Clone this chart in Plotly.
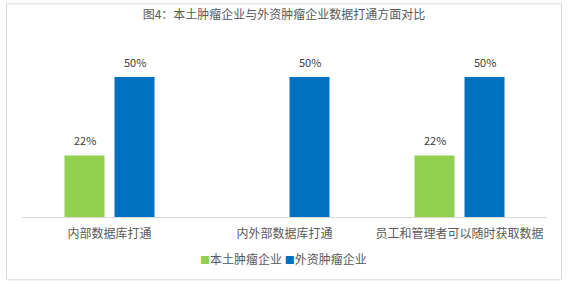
import plotly.graph_objects as go

categories = ["内部数据库打通", "内外部数据库打通", "员工和管理者可以随时获取数据"]
series_names = ["本土肿瘤企业", "外资肿瘤企业"]
local_values = [22, None, 22]
foreign_values = [50, 50, 50]
colors = ["#92D050", "#0070C0"]
title_text = "图4：本土肿瘤企业与外资肿瘤企业数据打通方面对比"

FONT = "Noto Sans CJK SC, Microsoft YaHei, sans-serif"
W, H = 568, 284
L, R, T, B = 22, 21, 48.7, 67.3
pw, ph = W - L - R, H - T - B

fig = go.Figure()
for name, vals, c in zip(series_names, [local_values, foreign_values], colors):
    fig.add_trace(go.Bar(x=categories, y=vals, name=name, showlegend=False,
                         marker=dict(color=c, line=dict(width=0))))

annotations = []
for vals, shift in [(local_values, -25), (foreign_values, 25)]:
    for cat, v in zip(categories, vals):
        if v is None:
            continue
        annotations.append(dict(x=cat, y=v, xref="x", yref="y", text=f"{v}%", showarrow=False,
                                xshift=shift, yshift=15, yanchor="middle",
                                font=dict(family=FONT, size=11, color="#404040")))

def px2paper_x(px):
    return (px - L) / pw

def px2paper_y(py):
    return (H - B - py) / ph

# compact legend built from series names and colours
legend_text = " ".join(
    f'<span style="color:{c};font-size:10px">■</span>{n}' for n, c in zip(series_names, colors)
)
annotations.append(dict(x=px2paper_x(283.5), y=px2paper_y(258), xref="paper", yref="paper",
                        text=legend_text, showarrow=False, xanchor="center", yanchor="middle",
                        font=dict(family=FONT, size=12, color="#595959")))

shapes = [dict(type="rect", xref="paper", yref="paper",
               x0=px2paper_x(6.5), x1=px2paper_x(561.5), y0=px2paper_y(279.5), y1=px2paper_y(3.5),
               line=dict(color="#D9D9D9", width=1), fillcolor="rgba(0,0,0,0)", layer="below")]

fig.update_layout(
    width=W, height=H,
    margin=dict(l=L, r=R, t=T, b=B),
    paper_bgcolor="white", plot_bgcolor="white",
    barmode="group", bargap=0.4286, bargroupgap=0.2,
    title=dict(text=title_text, x=0.5, xanchor="center", y=1 - 15 / H, yanchor="middle",
               font=dict(family=FONT, size=12, color="#595959")),
    xaxis=dict(showline=True, linecolor="#D9D9D9", linewidth=1, ticks="", showgrid=False,
               ticklabelstandoff=6,
               tickfont=dict(family=FONT, size=12, color="#595959")),
    yaxis=dict(range=[0, 60], visible=False, showgrid=False, zeroline=False),
    annotations=annotations,
    shapes=shapes,
    showlegend=False,
)

fig.write_html("out.html")
